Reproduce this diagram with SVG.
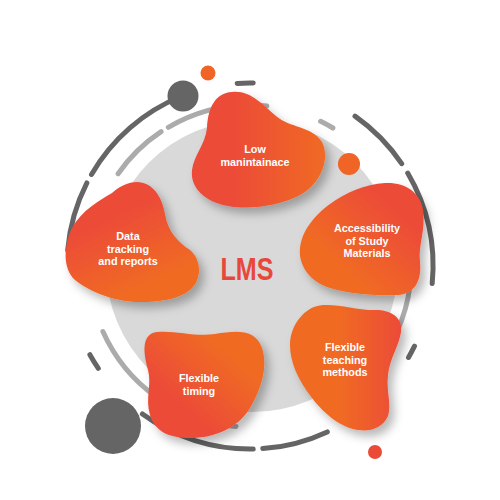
<svg xmlns="http://www.w3.org/2000/svg" width="500" height="500" viewBox="0 0 500 500">
<style>
.dk{fill:none;stroke:#656565;stroke-width:5;stroke-linecap:round}
.lt{fill:none;stroke:#ababab;stroke-width:5;stroke-linecap:round}
.blob{filter:url(#sh)}
.t{fill:#fff;font-family:"Liberation Sans",Arial,sans-serif;font-weight:bold;font-size:10.8px;text-anchor:middle}
</style>
<defs>
<filter id="sh" x="-30%" y="-30%" width="160%" height="160%">
<feDropShadow dx="5" dy="6" stdDeviation="5" flood-color="#000" flood-opacity="0.28"/>
</filter>
<linearGradient id="g1" x1="0" y1="0" x2="1" y2="0"><stop offset="0.3" stop-color="#EC4B38"/><stop offset="1" stop-color="#F06A24"/></linearGradient>
<linearGradient id="g2" x1="0.3" y1="0.1" x2="0.7" y2="0.9"><stop offset="0.2" stop-color="#EC4B38"/><stop offset="0.9" stop-color="#F06A24"/></linearGradient>
<linearGradient id="g3" x1="0.9" y1="0.1" x2="0.1" y2="0.9"><stop offset="0.15" stop-color="#EC4B38"/><stop offset="0.75" stop-color="#F06A24"/></linearGradient>
<linearGradient id="g4" x1="0" y1="0" x2="1" y2="0"><stop offset="0.45" stop-color="#F06A24"/><stop offset="1" stop-color="#EC4B38"/></linearGradient>
<linearGradient id="g5" x1="0.9" y1="0.1" x2="0.1" y2="0.9"><stop offset="0.2" stop-color="#F06A24"/><stop offset="0.75" stop-color="#EC4B38"/></linearGradient>
</defs>
<rect width="500" height="500" fill="#fff"/>
<circle id="disc" cx="252" cy="266" r="146" fill="#d9d9d9"/>
<g id="connectors">
<path class="lt" d="M118.1 173.7A161 161 0 0 1 161.1 131.7"/>
<path class="lt" d="M168.3 127.3A161 161 0 0 1 266.8 105.9"/>
<path class="lt" d="M320.6 121.3A161 161 0 0 1 332.9 128"/>
<path class="lt" d="M408.6 238A161 161 0 0 1 397.1 331.5"/>
<path class="lt" d="M236 426.4A161 161 0 0 1 102.9 331.5"/>
<path class="dk" d="M91.5 174.5A183 183 0 0 1 181.4 96.3"/>
<path class="dk" d="M67.7 250A183 183 0 0 1 86.9 182.9"/>
<path class="dk" d="M98.3 368.3A183 183 0 0 1 89.9 354.7"/>
<path class="dk" d="M253.2 449A183 183 0 0 1 142.4 414"/>
<path class="dk" d="M327.3 431.9A183 183 0 0 1 262.8 448.6"/>
<path class="dk" d="M414.5 346.2A183 183 0 0 1 408.5 357.5"/>
<path class="dk" d="M407.7 173.1A183 183 0 0 1 432.2 283.5"/>
<path class="dk" d="M355 116.1A183 183 0 0 1 401.7 163.7"/>
<path class="dk" d="M237.2 83.4A183 183 0 0 1 253.2 83"/>
<circle cx="183" cy="96" r="15.5" fill="#656565"/>
<circle cx="113" cy="426" r="28" fill="#656565"/>
<circle cx="208" cy="73" r="7.5" fill="#F06526"/>
<circle cx="349" cy="164" r="11" fill="#F06526"/>
<circle cx="375" cy="452" r="7" fill="#EA4A36"/>
</g>
<g id="low">
<path class="blob" fill="url(#g1)" d="M232 92C250 90 262 104 276 116C290 128 312 126 322 142C330 158 322 182 302 194C280 206 250 210 228 206C205 202 190 188 192 170C194 155 205 145 207 128C208 108 215 93 232 92Z"/>
<text class="t" x="255" y="153">Low</text>
<text class="t" x="255" y="166">manintainace</text>
</g>
<g id="data">
<path class="blob" fill="url(#g2)" d="M137 182C152 182 162 196 165 214C168 232 178 242 190 250C202 260 202 280 190 290C178 300 158 302 140 302C115 302 90 292 75 280C62 268 64 245 72 228C82 210 100 200 112 193C120 186 128 182 137 182Z"/>
<text class="t" x="128" y="240">Data</text>
<text class="t" x="128" y="252.5">tracking</text>
<text class="t" x="128" y="265">and reports</text>
</g>
<g id="access">
<path class="blob" fill="url(#g3)" d="M385 183C405 182 420 192 423 210C426 230 418 245 420 262C422 280 415 294 398 295C375 296 350 294 330 288C310 282 298 265 300 248C302 230 315 215 330 204C345 193 365 184 385 183Z"/>
<text class="t" x="367" y="232">Accessibility</text>
<text class="t" x="367" y="244.5">of Study</text>
<text class="t" x="367" y="257">Materials</text>
</g>
<g id="teaching">
<path class="blob" fill="url(#g4)" d="M323 305C340 304 355 310 375 310C392 310 403 318 401 332C399 346 390 358 388 375C386 392 392 404 388 416C383 428 370 432 358 430C342 428 325 415 312 398C298 380 290 362 290 345C290 325 305 306 323 305Z"/>
<text class="t" x="345" y="351">Flexible</text>
<text class="t" x="345" y="363.5">teaching</text>
<text class="t" x="345" y="376">methods</text>
</g>
<g id="timing">
<path class="blob" fill="url(#g5)" d="M157 332C175 330 195 337 215 334C235 331 255 328 262 348C268 366 262 388 250 408C238 428 215 438 190 438C170 438 155 432 150 415C145 398 152 385 148 370C144 355 140 334 157 332Z"/>
<text class="t" x="199" y="382">Flexible</text>
<text class="t" x="199" y="394.5">timing</text>
</g>
<g id="lms">
<text x="247" y="280" fill="#E8483A" font-family="Liberation Sans,Arial,sans-serif" font-weight="bold" font-size="31" textLength="53" lengthAdjust="spacingAndGlyphs" text-anchor="middle">LMS</text>
</g>
</svg>
